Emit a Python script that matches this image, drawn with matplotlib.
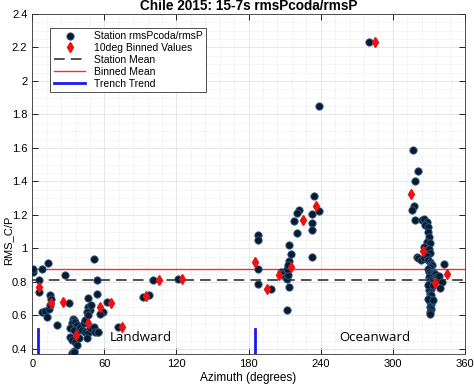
import matplotlib
matplotlib.use("Agg")
import matplotlib.pyplot as plt
from matplotlib.ticker import MultipleLocator, FuncFormatter

plt.rcParams['font.family'] = ['Liberation Sans', 'DejaVu Sans']

# station values (azimuth in degrees, rmsPcoda/rmsP)
sta_az = [0.5, 1, 8, 13, 5.3, 5.3, 8, 11, 12, 14, 14.4, 16, 15, 20.5, 27, 31,
          33, 35, 33.5, 34.4, 33, 35.7, 37.1, 31.6, 34.4, 38.5, 39.9, 42.7, 44,
          41.3, 44, 46.8, 48.2, 51, 52.4, 55.1, 45.5, 31.6, 33, 35.7, 38.5, 37.1,
          34.4, 46.8, 48.2, 45.5, 46.3, 49, 58.7, 46, 51, 53.8, 53.8, 56, 55,
          62, 71, 92.5, 97.5, 100.3, 121.6,
          188, 188, 188, 188, 199, 206.7, 207.5, 209, 210, 211, 212, 213, 213.5,
          212, 214, 215, 214, 212, 213, 220.5, 218, 222, 220.5, 233, 233, 233,
          233, 234, 238.5, 238.8, 280,
          316.5, 320.6, 318.4, 317.5, 316, 318.4, 324, 326, 328, 327, 329,
          329.5, 330, 328.5, 330.5, 326, 328, 330, 331, 320, 321, 323, 326, 328,
          329.5, 330.5, 331.5, 332.5, 331, 329, 330, 331, 333, 334, 335, 336,
          337, 338, 342.5, 340.6, 339, 330, 331, 332, 330, 331, 332, 330, 331,
          332, 330, 331, 332, 330.5, 331.5, 331, 331, 329, 333, 329, 333]
sta_val = [0.86, 0.875, 0.877, 0.913, 0.81, 0.74, 0.62, 0.625, 0.59, 0.64, 0.72,
           0.70, 0.66, 0.54, 0.84, 0.675,
           0.375, 0.385, 0.58, 0.573, 0.553, 0.563, 0.543, 0.523, 0.513, 0.513,
           0.533, 0.553, 0.573, 0.513, 0.503, 0.494, 0.523, 0.533, 0.503, 0.503,
           0.464, 0.473, 0.454, 0.444, 0.464, 0.424, 0.384, 0.652, 0.633, 0.623,
           0.603, 0.663, 0.623, 0.706, 0.937, 0.81, 0.73, 0.61, 0.50,
           0.683, 0.53, 0.712, 0.72, 0.81, 0.82,
           1.08, 1.05, 0.88, 0.79, 0.76, 0.86, 0.845, 0.85, 0.83, 0.83, 0.82,
           0.84, 0.77, 0.63, 0.927, 0.967, 1.02, 0.88, 0.90, 1.09, 1.166, 1.23,
           1.21, 1.15, 1.11, 0.95, 1.206, 1.313, 1.225, 1.85, 2.23,
           1.588, 1.46, 1.40, 1.254, 1.23, 1.17, 1.17, 1.176, 1.16, 1.14, 1.13,
           1.10, 1.07, 1.04, 1.03, 1.01, 0.99, 0.995, 0.97, 0.95, 0.94, 0.93,
           0.945, 0.955, 0.93, 0.92, 0.91, 0.90, 0.89, 0.88, 0.86, 0.85, 0.84,
           0.855, 0.85, 0.83, 0.82, 0.835, 0.91, 0.80, 0.762, 0.83, 0.81, 0.80,
           0.79, 0.77, 0.76, 0.75, 0.73, 0.72, 0.70, 0.68, 0.67, 0.65, 0.64,
           0.62, 0.609, 0.78, 0.78, 0.70, 0.69]

# 10 degree binned values
bin_az = [6, 15.5, 25.5, 36, 46, 56, 65.7, 75, 95, 105.6, 125, 185, 195, 205.3,
          215, 225.5, 236, 285, 315, 324.7, 335, 345]
bin_val = [0.77, 0.675, 0.68, 0.485, 0.553, 0.652, 0.675, 0.53, 0.715, 0.81,
           0.817, 0.918, 0.758, 0.84, 0.888, 1.17, 1.255, 2.23, 1.325, 0.987,
           0.796, 0.848]

station_mean = 0.81
binned_mean = 0.88
trench_az = [5, 185]
trench_top = 0.52

fig = plt.figure(figsize=(4.74, 3.86), dpi=100)
ax = fig.add_axes([0.068, 0.083, 0.913, 0.881])

ax.set_xlim(0, 360)
ax.set_ylim(0.37, 2.4)

ax.grid(True, which='major', color='#e2e2e2', linewidth=0.6)
ax.grid(True, which='minor', color='#e2e2e2', linewidth=0.6, linestyle=':')
ax.set_axisbelow(True)

ax.plot(sta_az, sta_val, 'o', color='#0b1a2c', markeredgecolor='#2b5f8c',
        markeredgewidth=0.6, markersize=5.3, label='Station rmsPcoda/rmsP', zorder=3)
ax.plot(bin_az, bin_val, 'd', color='#ee1111', markersize=5,
        label='10deg Binned Values', zorder=4)
ax.axhline(station_mean, color='#222222', linestyle=(0, (7, 4)), linewidth=1.1,
           label='Station Mean', zorder=2)
ax.axhline(binned_mean, color='#ee3333', linewidth=1.0, label='Binned Mean', zorder=2)
for i, t in enumerate(trench_az):
    ax.plot([t, t], [0.37, trench_top], color='#1a1aee', linewidth=2,
            label='Trench Trend' if i == 0 else None, zorder=2)

ax.text(90, 0.47, 'Landward', fontsize=9.5, family=['Open Sans', 'DejaVu Sans'],
        ha='center', va='center')
ax.text(285, 0.47, 'Oceanward', fontsize=9.5, family=['Open Sans', 'DejaVu Sans'],
        ha='center', va='center')

ax.xaxis.set_major_locator(MultipleLocator(60))
ax.xaxis.set_minor_locator(MultipleLocator(12))
ax.yaxis.set_major_locator(MultipleLocator(0.2))
ax.yaxis.set_minor_locator(MultipleLocator(0.05))
ax.yaxis.set_major_formatter(FuncFormatter(lambda v, p: ('%.1f' % v).rstrip('0').rstrip('.')))
ax.tick_params(which='both', direction='in', top=True, right=True, labelsize=8)
ax.tick_params(which='minor', length=0)
ax.tick_params(which='major', length=4, width=0.6)
for s in ax.spines.values():
    s.set_linewidth(0.6)
    s.set_color('#333333')

ax.set_xlabel('Azimuth (degrees)', fontsize=8.5, labelpad=2)
ax.set_ylabel('RMS_C/P', fontsize=8, va='center')
ax.yaxis.set_label_coords(-0.055, 0.335)
ax.set_title('Chile 2015: 15-7s rmsPcoda/rmsP', fontsize=9.8, fontweight='bold', pad=3)

leg = ax.legend(loc='upper left', bbox_to_anchor=(0.03, 0.975), fontsize=7.5,
                fancybox=False, framealpha=1, edgecolor='#333333',
                handlelength=3, borderpad=0.35, labelspacing=0.18)
leg.get_frame().set_linewidth(0.6)

fig.savefig('out.png', dpi=100)
